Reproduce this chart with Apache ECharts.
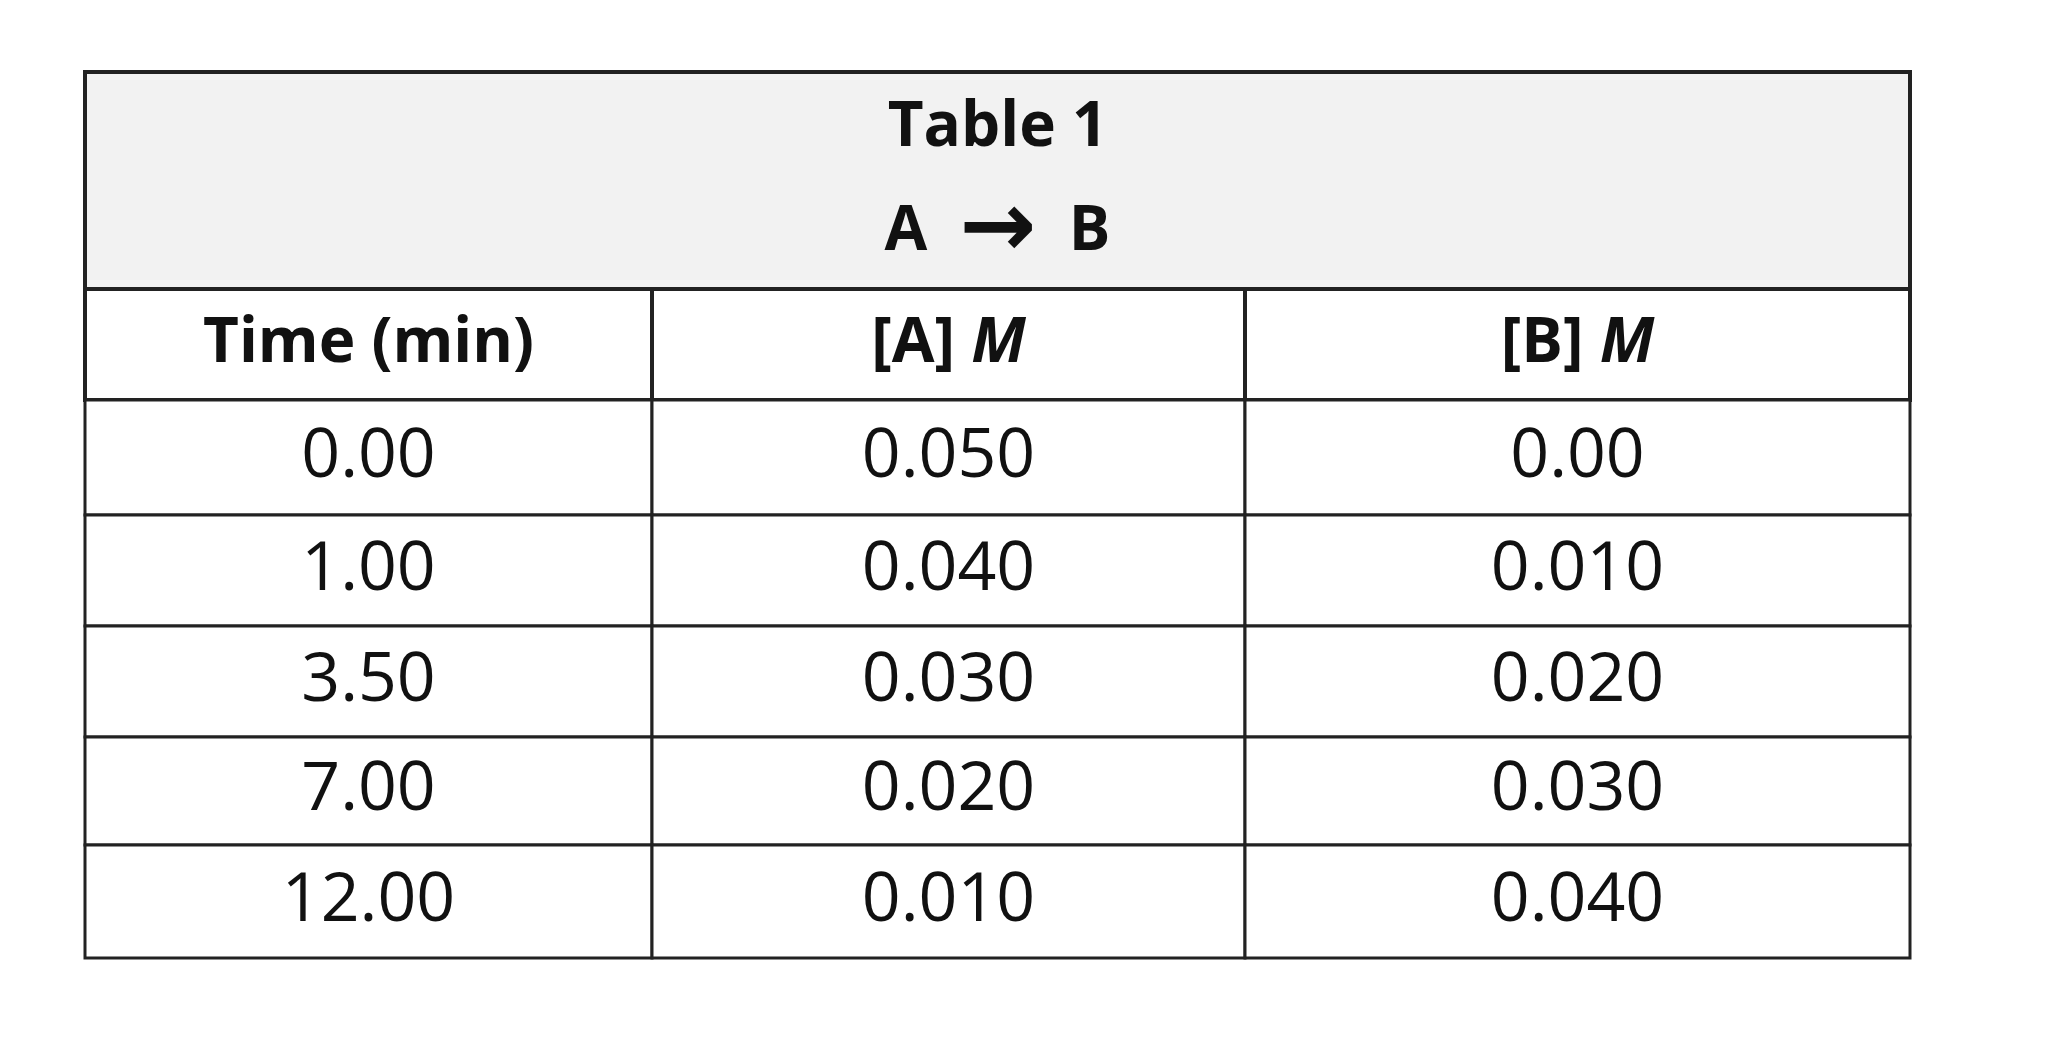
<!DOCTYPE html><html><head><meta charset="utf-8"><script src="https://cdn.jsdelivr.net/npm/echarts@6/dist/echarts.min.js"></script>
<style>html,body{margin:0;background:#fff}#c{width:2046px;height:1039px}</style></head><body><div id="c"></div><script>
const titleLines=['Table 1','A  {a|\u2192}  B'];
const headers=['Time (min)','[A] {i|M}','[B] {i|M}'];
const times=['0.00','1.00','3.50','7.00','12.00'];
const concA=['0.050','0.040','0.030','0.020','0.010'];
const concB=['0.00','0.010','0.020','0.030','0.040'];
const colEdges=[0,567,1160,1825];
const rowEdges=[0,217,328,443,554,665,773,886];
const cells=[];
cells.push([0,3,0,1,'title']);
cells.push([0,1,1,2,'h0'],[1,2,1,2,'h1'],[2,3,1,2,'h2']);
for(let r=0;r<times.length;r++){cells.push([0,1,r+2,r+3,'d0_'+r],[1,2,r+2,r+3,'d1_'+r],[2,3,r+2,r+3,'d2_'+r]);}
function textOf(k){
 if(k==='title')return titleLines.join('\n');
 if(k[0]==='h')return headers[+k[1]];
 const c=+k[1],r=+k.split('_')[1];return [times,concA,concB][c][r];
}
const font='"Open Sans","Noto Sans",sans-serif';
const ch=echarts.init(document.getElementById('c'));
ch.setOption({animation:false,
grid:{left:85,right:136,top:72,bottom:81},
xAxis:{type:'value',min:0,max:1825,show:false},
yAxis:{type:'value',min:0,max:886,inverse:true,show:false},
series:[{type:'custom',data:cells.map(c=>[colEdges[c[0]],colEdges[c[1]],rowEdges[c[2]],rowEdges[c[3]],c[4]]),
renderItem:function(params,api){
 const d=cells[params.dataIndex];const k=d[4];
 const p0=api.coord([colEdges[d[0]],rowEdges[d[2]]]),p1=api.coord([colEdges[d[1]],rowEdges[d[3]]]);
 const isT=k==='title',isH=k[0]==='h';
 return {type:'group',children:[
  {type:'rect',shape:{x:p0[0],y:p0[1],width:p1[0]-p0[0],height:p1[1]-p0[1]},style:{fill:isT?'#f2f2f2':'#fff',stroke:'#222',lineWidth:isT||isH?4:3}},
  {type:'text',style:{text:textOf(k),x:(p0[0]+p1[0])/2,y:(p0[1]+p1[1])/2,align:'center',verticalAlign:'middle',
   font:(isT||isH?'bold ':'')+(isT||isH?'62px ':'68px ')+font,fill:'#111',lineHeight:isT?104:70,
   rich:{i:{fontStyle:'italic',fontWeight:'bold',fontSize:62,fontFamily:font,fill:'#111'},
         a:{fontWeight:'bold',fontSize:92,fontFamily:'"DejaVu Sans",sans-serif',fill:'#111',lineHeight:104}}}}
 ]};
}}]});
</script></body></html>
